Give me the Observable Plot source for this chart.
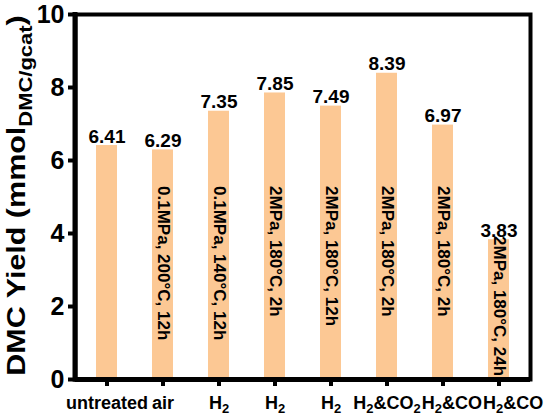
<!DOCTYPE html>
<html><head><meta charset="utf-8">
<script src="https://cdn.jsdelivr.net/npm/d3@7"></script>
<script src="https://cdn.jsdelivr.net/npm/@observablehq/plot@0.6"></script>
<style>body{margin:0;background:#fff}</style>
</head><body><div id="chart"></div>
<script>
// ---- data ----
const categories = ["untreated", "air", "H_2", "H_2", "H_2", "H_2&CO_2", "H_2&CO", "H_2&CO"];
const yields = [6.41, 6.29, 7.35, 7.85, 7.49, 8.39, 6.97, 3.83];
const conditions = ["", "0.1MPa, 200°C, 12h", "0.1MPa, 140°C, 12h", "2MPa, 180°C, 2h",
                    "2MPa, 180°C, 12h", "2MPa, 180°C, 2h", "2MPa, 180°C, 2h", "2MPa, 180°C, 24h"];
const yTicks = [0, 2, 4, 6, 8, 10];
const yLabel = "DMC Yield (mmol_{DMC/gcat})";
const noteTop = 5.3;

const data = categories.map((c, i) => ({i, cat: c, value: yields[i], note: conditions[i]}));
const font = "'Liberation Sans', Arial, Helvetica, sans-serif";
const barColor = "#fcc894";

const plot = Plot.plot({
  width: 550, height: 416,
  marginLeft: 75, marginRight: 20, marginTop: 14, marginBottom: 37,
  style: {fontFamily: font, fontWeight: "bold", color: "#000", background: "#fff", overflow: "visible"},
  x: {type: "band", domain: d3.range(categories.length), paddingInner: 0.628, paddingOuter: 0.345},
  y: {domain: [0, 10]},
  marks: [
    Plot.barY(data, {x: "i", y: "value", fill: barColor}),
    Plot.text(data, {x: "i", y: "value", text: d => d.value.toFixed(2), lineAnchor: "bottom", dy: -3, fontSize: 19}),
    Plot.text(data.filter(d => d.note), {x: "i", y: d => Math.min(d.value + 0.1, noteTop), text: "note",
      rotate: 90, textAnchor: "start", fontSize: 17}),
    Plot.frame({strokeWidth: 4}),
    Plot.ruleY([0], {strokeWidth: 5}),
    Plot.axisY({ticks: yTicks, tickSize: 7, tickPadding: 4, strokeWidth: 4, fontSize: 25, label: null}),
    Plot.axisX({tickSize: 7, tickPadding: 10, strokeWidth: 4, fontSize: 18, tickFormat: i => categories[i], label: null})
  ]
});

function applySub(textEl, str, subSize, shift) {
  const sel = d3.select(textEl);
  sel.text(null);
  const parts = [];
  const re = /_\{([^}]*)\}|_(.)/g;
  let last = 0, m;
  while ((m = re.exec(str))) {
    if (m.index > last) parts.push([str.slice(last, m.index), false]);
    parts.push([m[1] !== undefined ? m[1] : m[2], true]);
    last = re.lastIndex;
  }
  if (last < str.length) parts.push([str.slice(last), false]);
  let cur = 0;
  for (const [t, sub] of parts) {
    const ts = sel.append("tspan").text(t);
    const target = sub ? shift : 0;
    if (target !== cur) ts.attr("dy", target - cur);
    if (sub) ts.attr("font-size", subSize);
    cur = target;
  }
}

const svg = d3.select(plot);
svg.selectAll("text").each(function() {
  const s = this.textContent;
  if (s.includes("_")) applySub(this, s, 13, 4);
});

const ys = plot.scale("y");
const y0 = ys.apply(0), y10 = ys.apply(10);
svg.append("line").attr("x1", 75).attr("x2", 75).attr("y1", y10 - 2).attr("y2", y0 + 2.5)
  .attr("stroke", "#000").attr("stroke-width", 5);

const yl = svg.append("text")
  .attr("transform", `translate(25,${(y0 + y10) / 2 - 1}) rotate(-90) scale(1.22,1)`)
  .attr("text-anchor", "middle").attr("font-size", 25).attr("fill", "#000");
applySub(yl.node(), yLabel, 18, 7);

document.getElementById("chart").appendChild(plot);

// keep x tick labels from overlapping: push each one right of its left neighbour
const xLabels = svg.selectAll('g[aria-label="x-axis tick label"] text').nodes();
let prevRight = -Infinity;
for (const t of xLabels) {
  const r = t.getBoundingClientRect();
  let shift = 0;
  if (r.left < prevRight + 1) shift = prevRight + 1 - r.left;
  if (shift) t.setAttribute("transform", `translate(${shift},0) ` + (t.getAttribute("transform") || ""));
  prevRight = r.right + shift;
}
</script>
</body></html>
